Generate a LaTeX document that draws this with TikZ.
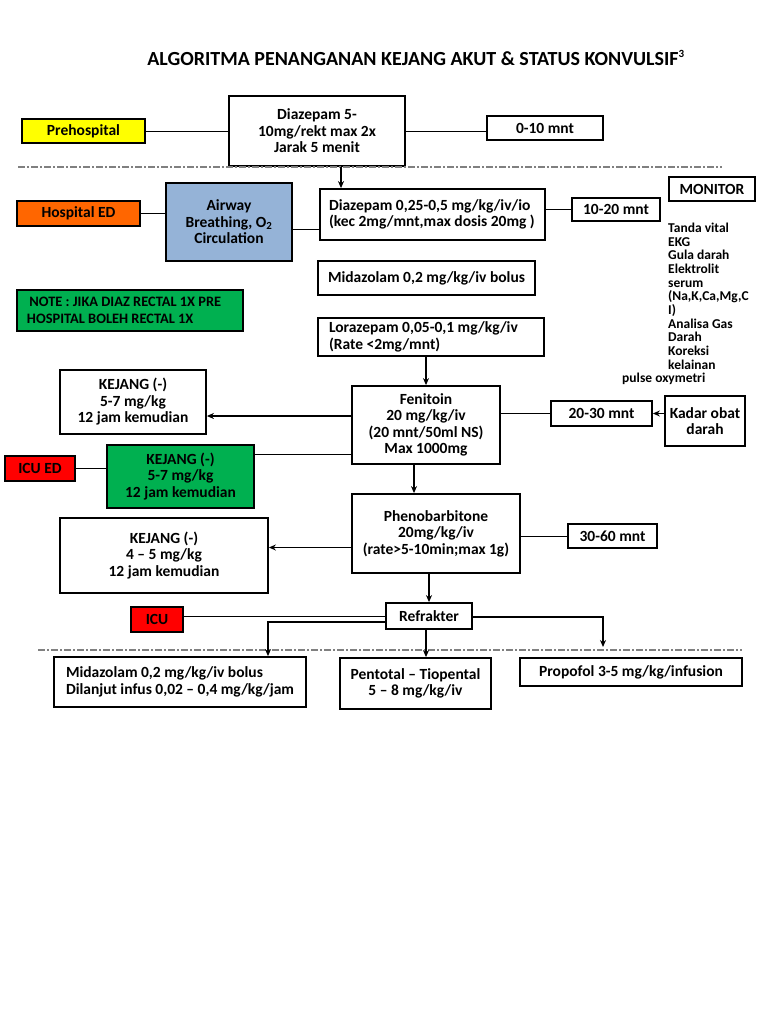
\documentclass[tikz,border=0pt]{standalone}
\usepackage{fontspec}
\setmainfont{Carlito}
\usetikzlibrary{arrows.meta,positioning,calc}
\definecolor{cyel}{HTML}{FFFF00}
\definecolor{cora}{HTML}{FF6600}
\definecolor{cblu}{HTML}{95B3D7}
\definecolor{cgrn}{HTML}{00B050}
\definecolor{cred}{HTML}{FF0000}
\tikzset{
  box/.style={draw=black, line width=1.8pt, inner sep=2pt, align=center,
    font=\bfseries\fontsize{15.5}{16.5}\selectfont},
  boxl/.style={box, align=flush left},
  conn/.style={draw=black, line width=0.9pt},
  arr/.style={draw=black, line width=1.5pt, -{Stealth[length=7pt,width=6pt]}},
  sep/.style={draw=gray, line width=1.2pt, dash pattern=on 7pt off 2pt on 2pt off 2pt},
  mon/.style={align=flush left, inner sep=0pt, font=\bfseries\fontsize{13.5}{13.65}\selectfont},
}
\begin{document}
\begin{tikzpicture}[x=1pt,y=-1pt]
\useasboundingbox (0,0) rectangle (768,1024);
\fill[white] (0,0) rectangle (768,1024);

\node[inner sep=0pt, font=\bfseries\fontsize{20}{22}\selectfont] (title) at (416,58) {ALGORITMA PENANGANAN KEJANG AKUT \& STATUS KONVULSIF\textsuperscript{\fontsize{11}{11}\selectfont 3}};

% row 1
\node[box, fill=cyel, minimum width=123, minimum height=24] (pre) at (83.5,131) {Prehospital};
\node[box, line width=2.4pt, minimum width=176, minimum height=70] (d1) at (317,131) {Diazepam 5-\\10mg/rekt max 2x\\Jarak 5 menit};
\node[box, minimum width=116, minimum height=24] (t1) at (545,128) {0-10 mnt};
\draw[conn] (pre) -- (d1);
\draw[conn] (d1.east) -- (d1.east -| t1.west);

\coordinate (s1a) at (18,167);
\coordinate (s1b) at (722,167);
\draw[sep] (s1a) -- (s1b);

% row 2
\node[box, fill=cora, minimum width=123, minimum height=25] (hed) at (78.5,213.5) {Hospital ED};
\node[box, fill=cblu, minimum width=126, minimum height=78] (air) at (229,222) {Airway\\Breathing, O\textsubscript{2}\\Circulation};
\node[boxl, minimum width=225, minimum height=51, text width=207] (d2) at (432.5,214.5) {Diazepam 0,25-0,5 mg/kg/iv/io\\(kec 2mg/mnt,max dosis 20mg )};
\node[box, minimum width=88, minimum height=23] (t2) at (616,209.5) {10-20 mnt};
\node[box, minimum width=86, minimum height=24] (monit) at (712,189) {MONITOR};
\draw[arr] ([xshift=24pt]d1.south) -- ([xshift=24pt]d1.south |- d2.north);
\draw[conn] (hed.east) -- (hed.east -| air.west);
\draw[conn] ([yshift=-7pt]air.east) -- ([yshift=-7pt]air.east -| d2.west);
\draw[conn] (t2.west -| d2.east) -- (t2.west);

\node[mon, anchor=north west] (montext) at (668,223) {Tanda vital\\EKG\\Gula darah\\Elektrolit\\serum\\(Na,K,Ca,Mg,C\\I)\\Analisa Gas\\Darah\\Koreksi\\kelainan};
\node[mon, anchor=north west] (pulse) at (622,373) {pulse oxymetri};

\node[box, minimum width=217, minimum height=34] (mid1) at (426.5,278) {Midazolam 0,2 mg/kg/iv bolus};
\node[boxl, fill=cgrn, minimum width=226, minimum height=41, text width=206] (note) at (130,310.5) {\fontsize{14.4}{17}\selectfont\,NOTE : JIKA DIAZ RECTAL 1X PRE\\HOSPITAL BOLEH RECTAL 1X};
\node[boxl, minimum width=226, minimum height=38, text width=204] (lor) at (431,337) {Lorazepam 0,05-0,1 mg/kg/iv\\(Rate {<}2mg/mnt)};

% Fenitoin row
\node[box, minimum width=148, minimum height=78] (fen) at (426,425) {Fenitoin\\20 mg/kg/iv\\(20 mnt/50ml NS)\\Max 1000mg};
\node[box, minimum width=146, minimum height=64] (k1) at (133,402) {KEJANG (-)\\5-7 mg/kg\\12 jam kemudian};
\node[box, minimum width=101, minimum height=25] (t3) at (601.5,413.5) {20-30 mnt};
\node[box, minimum width=80, minimum height=50] (kad) at (705,421) {Kadar obat\\darah};
\draw[arr] (fen.north |- lor.south) -- (fen.north);
\draw[arr] ([yshift=9pt]fen.west) -- ([yshift=9pt]fen.west -| k1.east);
\draw[conn] (t3.west -| fen.east) -- (t3.west);
\draw[arr] (t3.east -| kad.west) -- (t3.east);

\node[box, fill=cred, minimum width=70, minimum height=25] (icued) at (40,468.5) {ICU ED};
\node[box, fill=cgrn, minimum width=147, minimum height=63] (k2) at (180.5,476.5) {KEJANG (-)\\5-7 mg/kg\\12 jam kemudian};
\draw[conn] (icued.east) -- (icued.east -| k2.west);
\draw[conn] ([yshift=22pt]k2.east) -- ([yshift=22pt]k2.east -| fen.west);

% Phenobarbitone row
\node[box, minimum width=168, minimum height=79] (ph) at (436,533.5) {Phenobarbitone\\20mg/kg/iv\\(rate{>}5-10min;max 1g)};
\node[box, minimum width=208, minimum height=75] (k3) at (164,555.5) {KEJANG (-)\\4 -- 5 mg/kg\\12 jam kemudian};
\node[box, minimum width=89, minimum height=24] (t4) at (612.5,536) {30-60 mnt};
\draw[arr] ([xshift=-12pt]fen.south) -- ([xshift=-12pt]fen.south |- ph.north);
\draw[arr] ([yshift=-14pt]ph.west) -- ([yshift=-14pt]ph.west -| k3.east);
\draw[conn] (t4.west -| ph.east) -- (t4.west);

% Refrakter
\node[box, minimum width=86, minimum height=26] (ref) at (429,616) {Refrakter};
\node[box, fill=cred, minimum width=52, minimum height=25] (icu) at (157,619.5) {ICU};
\draw[arr] (ref.north |- ph.south) -- (ref.north);
\draw[conn] ([yshift=3pt]icu.east) -- ([yshift=3pt]icu.east -| ref.west);

\coordinate (s2a) at (38,650);
\coordinate (s2b) at (742,650);
\draw[sep] (s2a) -- (s2b);

\node[boxl, minimum width=252, minimum height=50, text width=228] (m2) at (180,682) {Midazolam 0,2 mg/kg/iv bolus\\Dilanjut infus 0,02 -- 0,4 mg/kg/jam};
\node[box, minimum width=151, minimum height=51] (pent) at (415.5,683.5) {Pentotal -- Tiopental\\5 -- 8 mg/kg/iv};
\node[box, minimum width=222, minimum height=28] (prop) at (631,672) {Propofol 3-5 mg/kg/infusion};
\coordinate (pend) at (603,647);

\draw[arr] ([yshift=-6pt]ref.west) -| ([xshift=88pt]m2.north);
\draw[arr] ([xshift=-3pt]ref.south) -- ([xshift=-3pt]ref.south |- pent.north);
\draw[arr] ([yshift=-1pt]ref.east) -| (pend);
\end{tikzpicture}
\end{document}
